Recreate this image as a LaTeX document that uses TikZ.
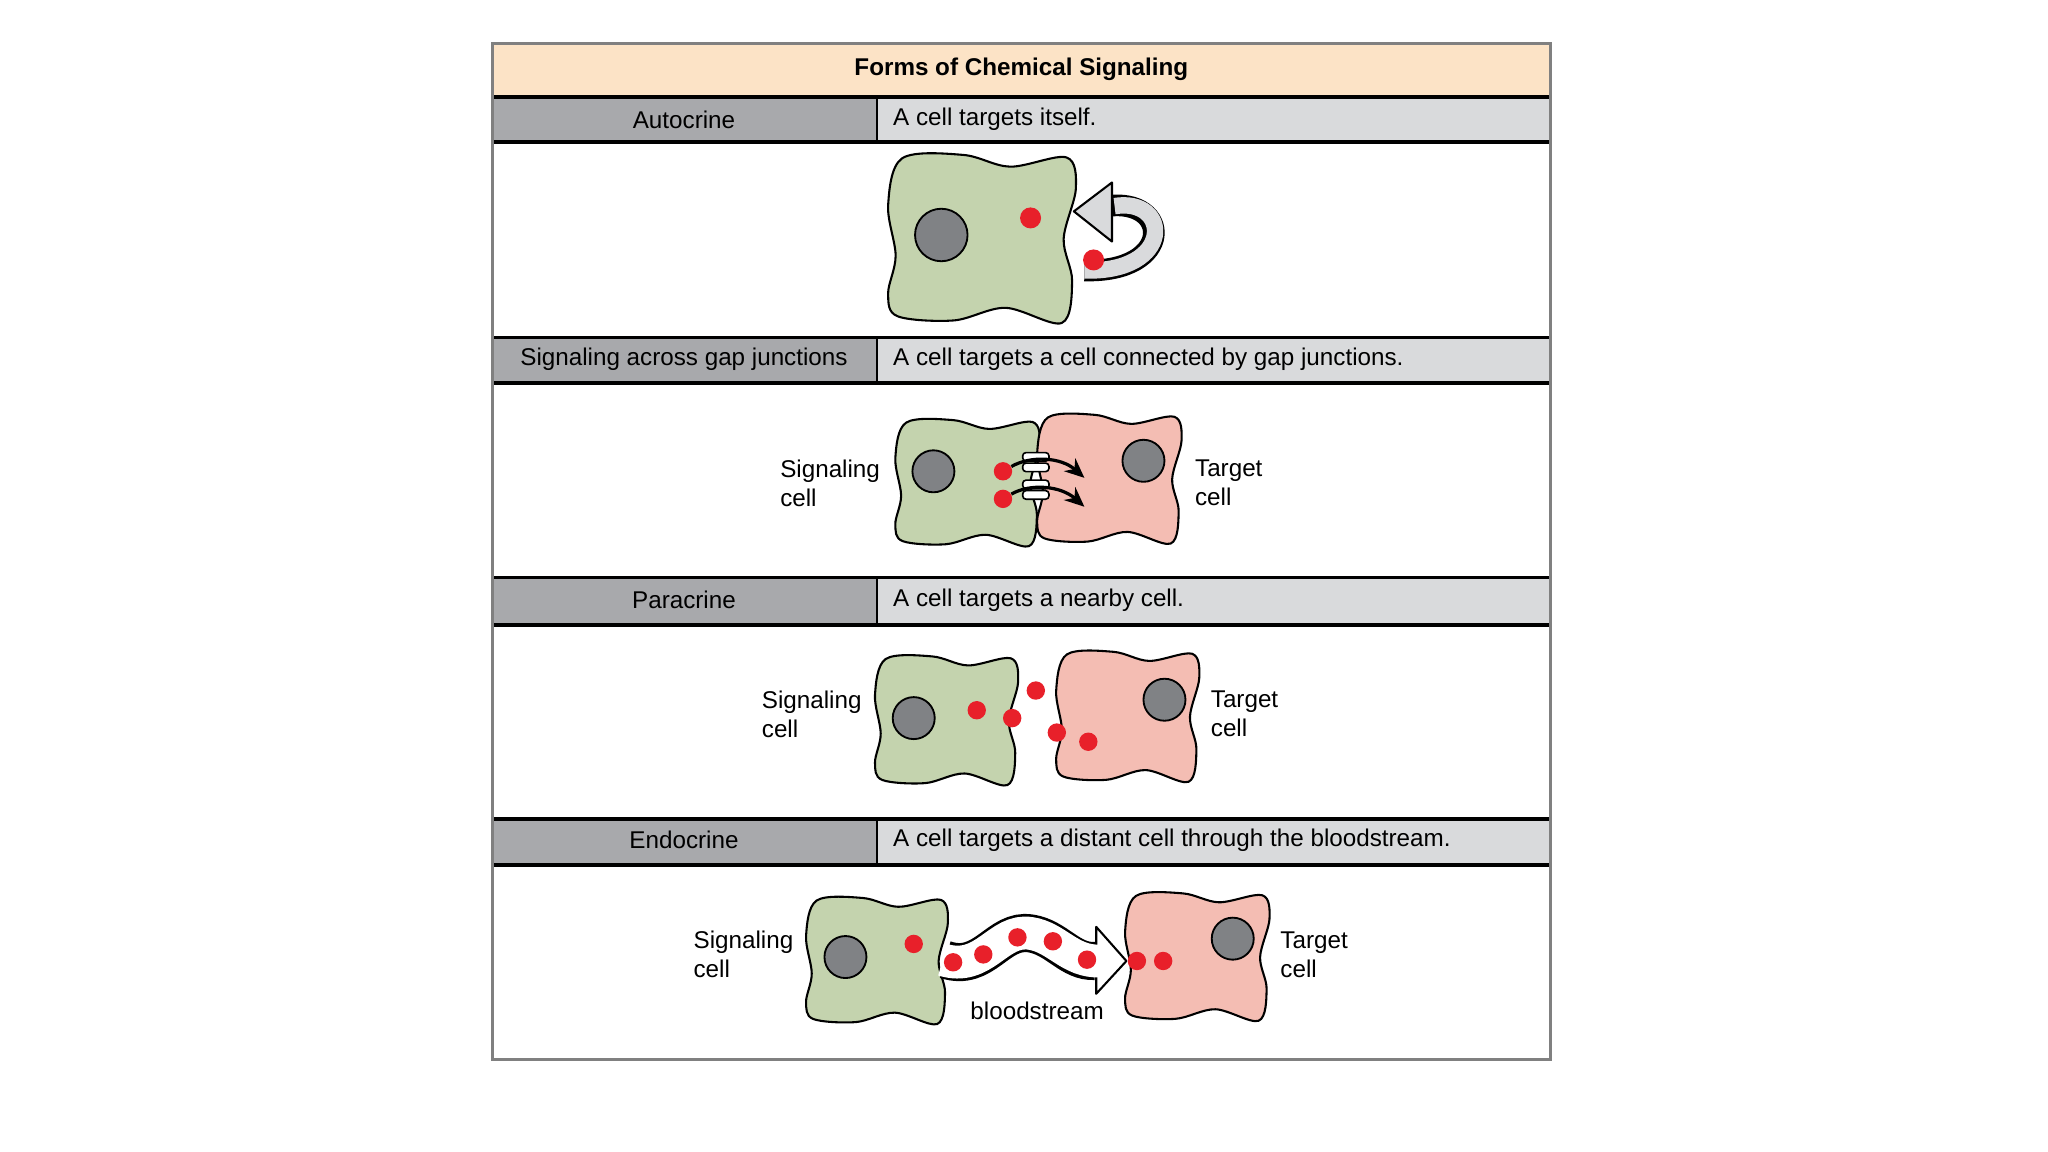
\documentclass[tikz,border=0pt]{standalone}
\usepackage{fontspec}
\setmainfont{Liberation Sans}
\usetikzlibrary{arrows.meta}
\definecolor{peach}{HTML}{FCE3C6}
\definecolor{hdark}{HTML}{A8A9AC}
\definecolor{hlight}{HTML}{D9DADC}
\definecolor{cgreen}{HTML}{C4D3AE}
\definecolor{cpink}{HTML}{F4BDB3}
\definecolor{nuc}{HTML}{808285}
\definecolor{mol}{HTML}{E8202A}
\tikzset{
  nucleus/.style={circle,draw=black,line width=0.8pt,fill=nuc,minimum size=#1,inner sep=0pt},
  dot/.style={circle,fill=mol,minimum size=3.2mm,inner sep=0pt},
  sdot/.style={circle,fill=mol,minimum size=2.8mm,inner sep=0pt},
  lab/.style={font=\fontsize{10.5}{12.5}\selectfont,align=left,anchor=west,inner sep=0pt},
  htext/.style={font=\fontsize{10.5}{12}\selectfont,inner sep=0pt},
  junc/.style={draw=black,fill=white,rounded corners=0.5mm,line width=0.7pt,minimum width=4mm,minimum height=1.3mm,inner sep=0pt},
}
\newcommand{\cellshape}[5]{%
 \begin{scope}[shift={(#1,#2)},xscale=#3/2,yscale=#4/2]
  \draw[fill=#5,line width=0.9pt] plot[smooth cycle,tension=0.55] coordinates{
  (-0.9,0.92) (-0.3,0.97) (0.25,0.82) (0.85,1.0) (0.96,0.5) (0.87,0) (1.0,-0.6)
  (0.9,-0.97) (0.3,-0.86) (-0.2,-1.0) (-0.85,-0.96) (-1.0,-0.4) (-0.92,0.2) (-1.0,0.65)};
 \end{scope}}
\newcommand{\headrow}[4]{%
  \fill[hdark] (375,#1) rectangle (668,#2);
  \fill[hlight] (668,#1) rectangle (1181,#2);
  \draw[line width=1.6pt] (375,#1) -- (1181,#1) (375,#2) -- (1181,#2);
  \draw[line width=1pt] (668,#1) -- (668,#2);
}
\begin{document}
\begin{tikzpicture}[x=0.2mm,y=-0.2mm]
\useasboundingbox (0,0) rectangle (1560,877.5);
\fill[white] (0,0) rectangle (1560,877.5);
% title
\fill[peach] (375,33) rectangle (1181,74);
\node[htext,font=\fontsize{10.5}{12}\selectfont\bfseries] (title) at (778,53) {Forms of Chemical Signaling};
% header rows
\headrow{74}{108}{}{}
\node[htext] (h1l) at (521,91) {Autocrine};
\node[htext,anchor=west] (h1r) at (680,91) {A cell targets itself.};
\headrow{257}{292}{}{}
\node[htext] (h2l) at (521,274) {Signaling across gap junctions};
\node[htext,anchor=west] (h2r) at (680,274) {A cell targets a cell connected by gap junctions.};
\headrow{440}{476}{}{}
\node[htext] (h3l) at (521,457) {Paracrine};
\node[htext,anchor=west] (h3r) at (680,457) {A cell targets a nearby cell.};
\headrow{624}{659}{}{}
\node[htext] (h4l) at (521,640) {Endocrine};
\node[htext,anchor=west] (h4r) at (680,640) {A cell targets a distant cell through the bloodstream.};
\draw[gray,line width=1.2pt] (375,33) rectangle (1181,807);

% ---- Autocrine
\cellshape{748}{182}{143}{128}{cgreen}
\node[nucleus=8mm] (an) at (717,179) {};
\node[dot] (ad1) at (785,166) {};
\draw[line width=3.3mm] (826,206) .. controls (895,208) and (892,150) .. (843,157);
\filldraw[fill=hlight,line width=0.9pt,line join=round] (847,139) -- (818,161) -- (847,184) -- cycle;
\draw[hlight,line width=2.5mm] (826,206) .. controls (895,208) and (892,150) .. (849,157);
\node[dot] (ad2) at (833,198) {};

% ---- Gap junctions
\cellshape{737}{368}{110}{96}{cgreen}
\cellshape{845}{365}{110}{98}{cpink}
\node[nucleus=6.4mm] (gn1) at (711,359) {};
\node[nucleus=6.4mm] (gn2) at (871,351) {};
\node[sdot] (gd1) at (764,359) {};
\node[sdot] (gd2) at (764,380) {};
\node[junc] (gj1) at (789,348) {};
\node[junc] (gj2) at (789,356) {};
\node[junc] (gj3) at (789,369) {};
\node[junc] (gj4) at (789,377) {};
\coordinate (gt1) at (826,364);
\coordinate (gt2) at (826,386);
\draw[-{Stealth[length=3mm,width=2.6mm]},line width=1.4pt] (gd1) .. controls (785,347) and (808,348) .. (gt1);
\draw[-{Stealth[length=3mm,width=2.6mm]},line width=1.4pt] (gd2) .. controls (785,368) and (808,370) .. (gt2);
\node[lab] (gl1) at (594,368) {Signaling\\cell};
\node[lab] (gl2) at (910,368) {Target\\cell};

% ---- Paracrine
\cellshape{721}{549}{109}{98}{cgreen}
\cellshape{859}{546}{109}{99}{cpink}
\node[nucleus=6.4mm] (pn1) at (696,547) {};
\node[nucleus=6.4mm] (pn2) at (887,533) {};
\node[sdot] (pd1) at (744,541) {};
\node[sdot] (pd2) at (771,547) {};
\node[sdot] (pd3) at (789,526) {};
\node[sdot] (pd4) at (805,558) {};
\node[sdot] (pd5) at (829,565) {};
\node[lab] (pl1) at (580,544) {Signaling\\cell};
\node[lab] (pl2) at (922,544) {Target\\cell};

% ---- Endocrine
\cellshape{668}{732}{108}{96}{cgreen}
\cellshape{912}{729}{110}{97}{cpink}
\node[nucleus=6.4mm] (en1) at (644,729) {};
\node[nucleus=6.4mm] (en2) at (939,715) {};
\draw[line width=5.8mm] (720,731) .. controls (750,741) and (760,707) .. (785,711) .. controls (805,714) and (815,733) .. (834,732);
\filldraw[fill=white,line width=0.9pt,line join=round] (835,706) -- (858,732) -- (835,757) -- cycle;
\draw[white,line width=5.0mm] (718,731) .. controls (750,741) and (760,707) .. (785,711) .. controls (805,714) and (815,733) .. (838,732);
\node[sdot] (ed1) at (696,719) {};
\node[sdot] (ed2) at (726,733) {};
\node[sdot] (ed3) at (749,727) {};
\node[sdot] (ed4) at (775,714) {};
\node[sdot] (ed5) at (802,717) {};
\node[sdot] (ed6) at (828,731) {};
\node[sdot] (ed7) at (866,732) {};
\node[sdot] (ed8) at (886,732) {};
\node[htext] (eb) at (790,770) {bloodstream};
\node[lab] (el1) at (528,727) {Signaling\\cell};
\node[lab] (el2) at (975,727) {Target\\cell};
\end{tikzpicture}
\end{document}
